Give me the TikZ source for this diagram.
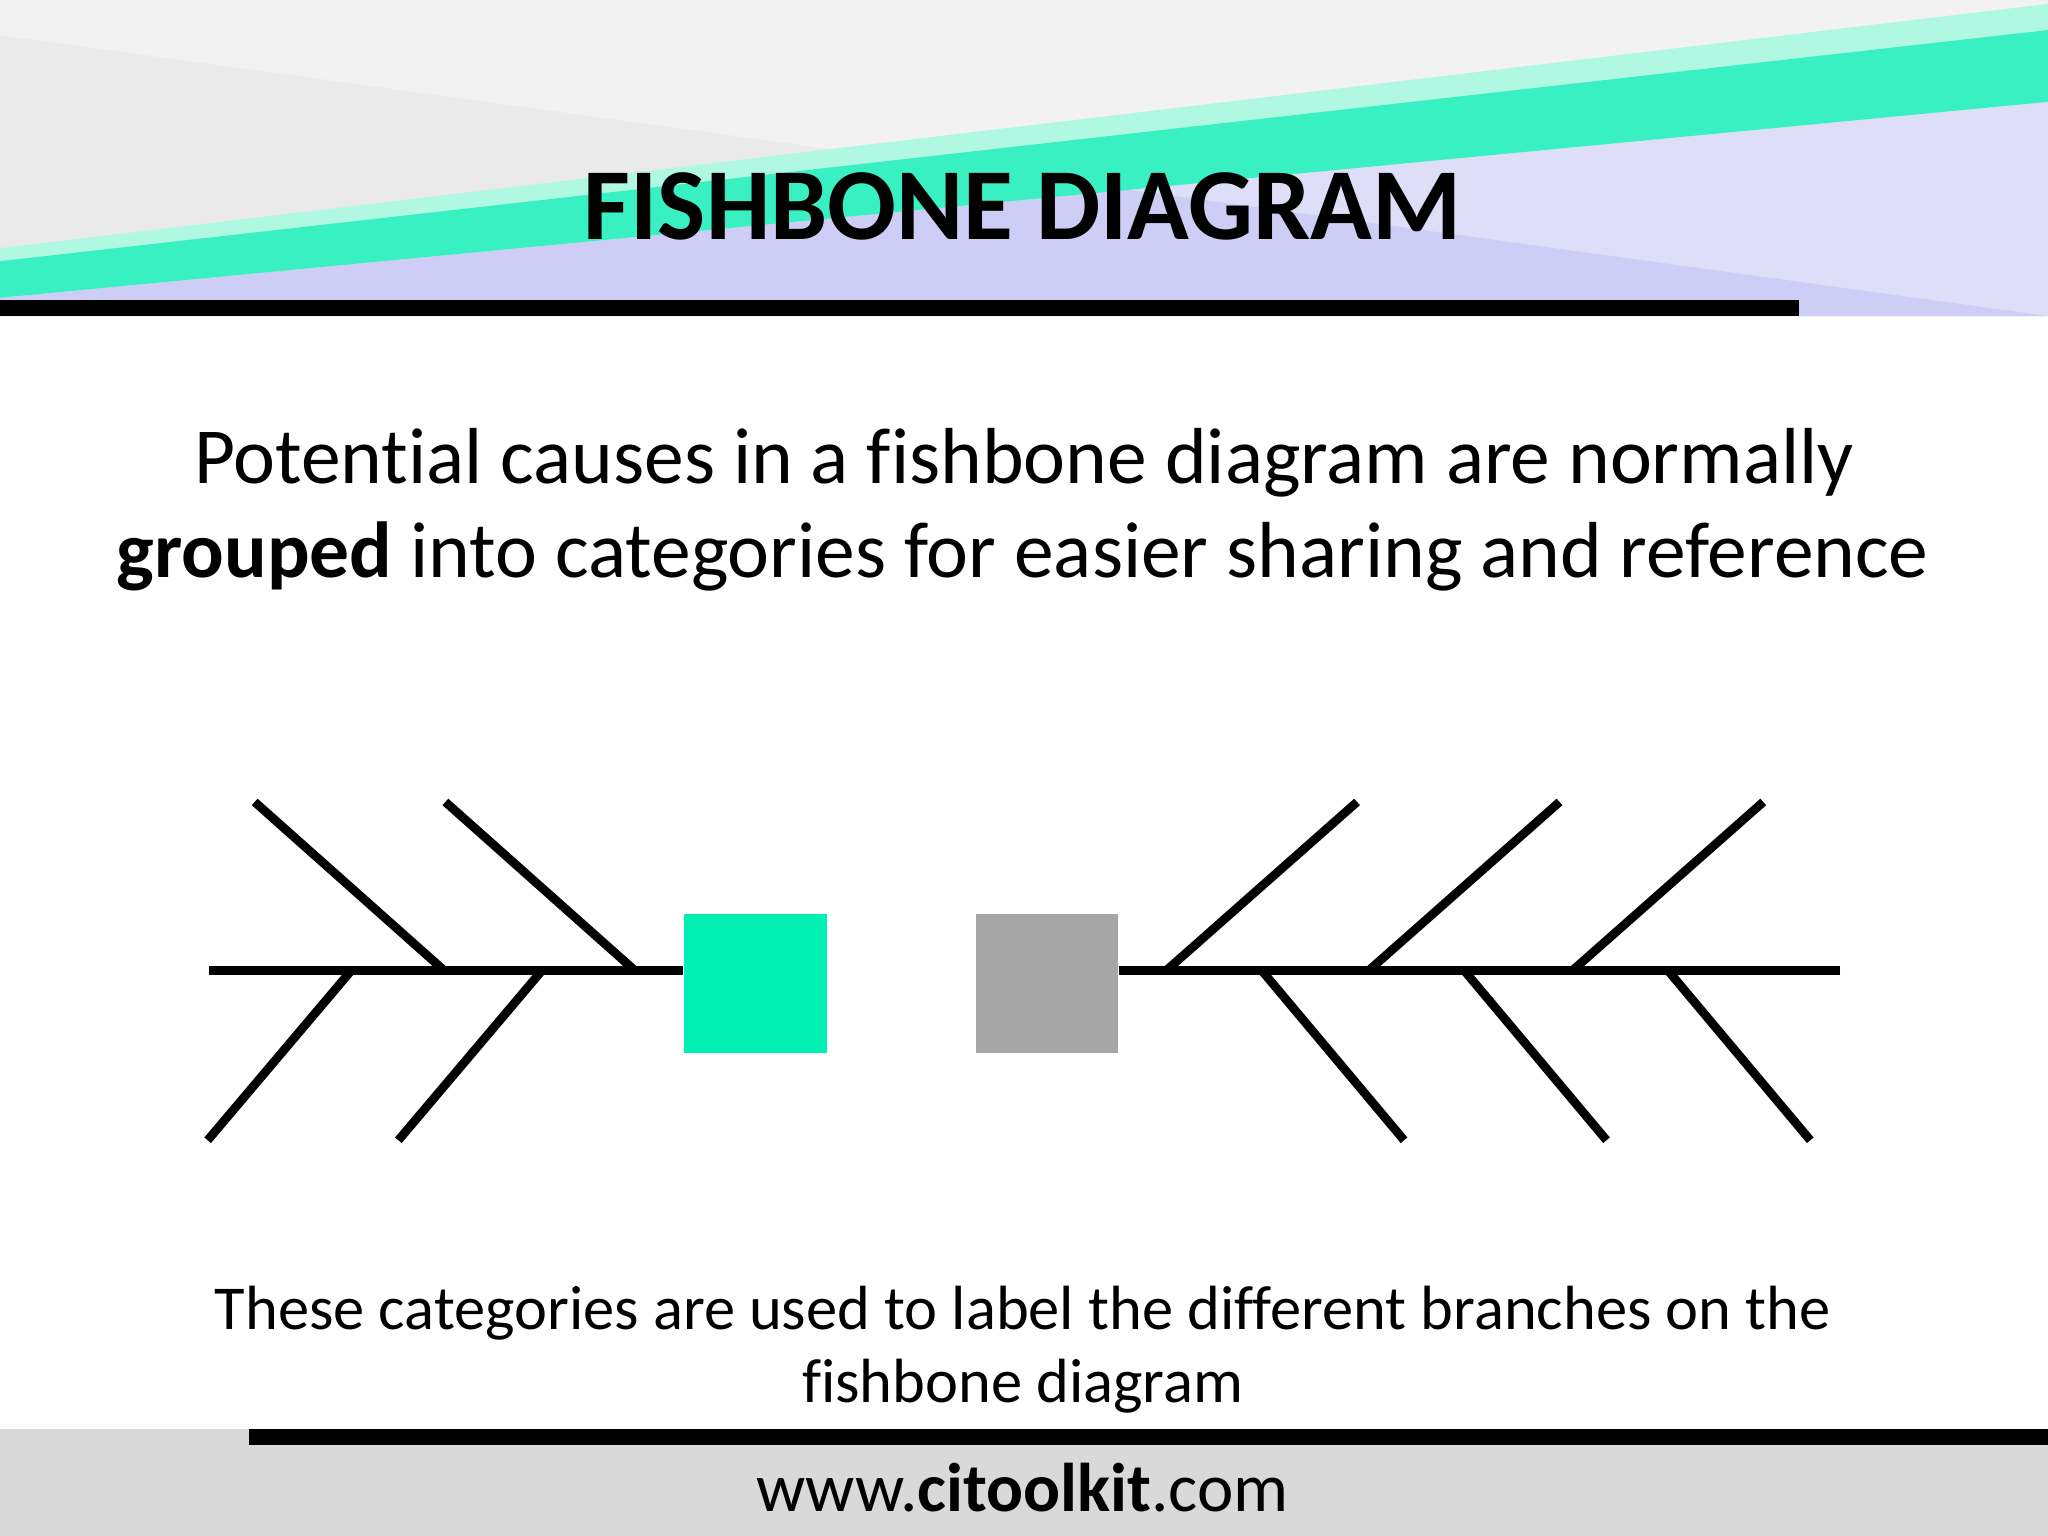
\documentclass[tikz,border=0pt]{standalone}
\usepackage{fontspec}
\setmainfont{Carlito}[Ligatures=NoCommon]
\usepackage{tikz}

\definecolor{hdrlight}{HTML}{F2F2F2}
\definecolor{hdrshade}{HTML}{EAEAEA}
\definecolor{lavlight}{HTML}{DEDEF8}
\definecolor{lavdark}{HTML}{CDCDF5}
\definecolor{tealpale}{HTML}{B0F8E2}
\definecolor{tealband}{HTML}{38F0C2}
\definecolor{effectgreen}{HTML}{00F0B4}
\definecolor{headgray}{HTML}{A6A6A6}
\definecolor{footgray}{HTML}{D9D9D9}

\tikzset{
  bone/.style={line width=1.9pt, black},
  catbox/.style={minimum width=1.09cm, minimum height=1.06cm, inner sep=0pt},
  textline/.style={anchor=base, inner sep=0pt}
}

\begin{document}
\begin{tikzpicture}[x=0.01cm, y=-0.01cm]
\useasboundingbox (0,0) rectangle (1568,1176);
% header
\fill[hdrlight] (0,0) rectangle (1568,242);
\fill[hdrshade] (0,27) -- (1568,242) -- (0,242) -- cycle;
\fill[lavlight] (0,228) -- (1568,78) -- (1568,242) -- (0,242) -- cycle;
\fill[lavdark] (863,145) -- (1568,242) -- (0,242) -- (0,228) -- cycle;
\fill[tealpale] (0,190) -- (1568,3) -- (1568,78) -- (0,228) -- cycle;
\fill[tealband] (0,200) -- (1568,23) -- (1568,78) -- (0,228) -- cycle;
\fill[black] (0,230) rectangle (1377,242);
\node[textline] (title) at (783,183) {\fontsize{22.2}{26}\selectfont\bfseries FISHBONE DIAGRAM};

% intro text
\node[textline] (introA) at (784,370) {\fontsize{17.3}{21}\selectfont Potential causes in a fishbone diagram are normally};
\node[textline] (introB) at (783,442) {\fontsize{17.3}{21}\selectfont \textbf{grouped} into categories for easier sharing and reference};

% fishbone
\node[catbox, fill=effectgreen] (effect) at (578.5,753) {};
\node[catbox, fill=headgray] (head) at (801.5,753) {};
\coordinate (tail) at (160,743);
\coordinate (tip) at (1409,743);
\draw[bone] (tail) -- (tail -| effect.west);
\draw[bone] (tip) -- (tip -| head.east);

\foreach \x in {0,146} {
  \coordinate (lu\x) at (195+\x,614);
  \coordinate (lj\x) at (340+\x,743);
  \coordinate (lk\x) at (269+\x,743);
  \coordinate (ld\x) at (159+\x,873);
  \draw[bone] (lu\x) -- (lj\x);
  \draw[bone] (lk\x) -- (ld\x);
}
\foreach \x in {0,155,311} {
  \coordinate (rj\x) at (893+\x,743);
  \coordinate (ru\x) at (1039+\x,614);
  \coordinate (rk\x) at (966+\x,743);
  \coordinate (rd\x) at (1075+\x,873);
  \draw[bone] (rj\x) -- (ru\x);
  \draw[bone] (rk\x) -- (rd\x);
}

% note
\node[textline] (noteA) at (783,1018) {\fontsize{13.6}{17}\selectfont These categories are used to label the different branches on the};
\node[textline] (noteB) at (783,1074) {\fontsize{13.6}{17}\selectfont fishbone diagram};

% footer
\fill[footgray] (0,1094) rectangle (1568,1176);
\fill[black] (191,1094) rectangle (1568,1106);
\node[textline] (site) at (783,1157) {\fontsize{15}{18}\selectfont www.\textbf{citoolkit}.com};
\end{tikzpicture}
\end{document}
